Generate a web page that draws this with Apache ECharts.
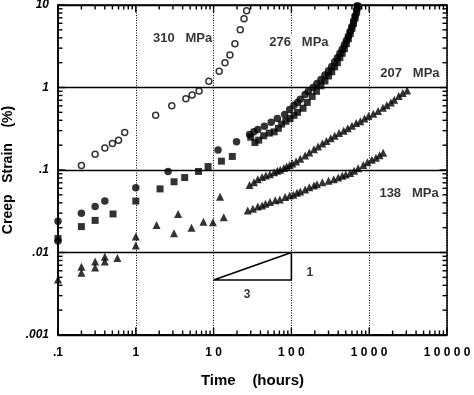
<!DOCTYPE html>
<html>
<head>
<meta charset="utf-8">
<script src="https://cdn.jsdelivr.net/npm/echarts@6/dist/echarts.min.js"></script>
<style>html,body{margin:0;padding:0;background:#fff}#c{width:474px;height:395px}</style>
</head>
<body>
<div id="c"></div>
<script>
// ---- data (time in hours, creep strain in %) ----
const xTickLabels = ['.1', '1', '1 0', '1 0 0', '1 0 0 0', '1 0 0 0 0'];
const yTickLabels = ['.001', '.01', '.1', '1', '10'];

const s310Time   = [0.2, 0.3, 0.4, 0.5, 0.6, 0.72, 1.8, 2.9, 4.4, 5.3, 6.5, 8.7, 11.8, 14, 16.2, 18.8, 22, 24.6, 26.6];
const s310Strain = [0.113, 0.155, 0.185, 0.21, 0.23, 0.285, 0.46, 0.60, 0.73, 0.81, 0.91, 1.19, 1.57, 2.0, 2.48, 3.4, 5.0, 6.8, 8.5];

const s276aTime   = [0.1, 0.1, 0.2, 0.3, 0.4, 1.0, 2.6, 11.4, 19.7, 29, 33, 37, 45, 55, 66, 82, 95, 108, 120, 130, 150, 165, 190, 213, 240, 270, 300, 330, 360, 390, 420, 450, 480, 510, 540, 570, 600, 630, 660, 690, 705];
const s276aStrain = [0.024, 0.0138, 0.030, 0.036, 0.042, 0.061, 0.096, 0.175, 0.22, 0.27, 0.29, 0.31, 0.34, 0.38, 0.42, 0.47, 0.54, 0.61, 0.66, 0.72, 0.82, 0.90, 1.0, 1.12, 1.25, 1.42, 1.6, 1.8, 2.05, 2.3, 2.6, 2.9, 3.3, 3.7, 4.2, 4.8, 5.5, 6.4, 7.4, 8.7, 9.8];

const s276bTime   = [0.1, 0.2, 0.3, 0.51, 1.0, 2.05, 3.1, 4.25, 6.4, 8.5, 12.6, 17.4, 30, 34, 38, 44, 52, 60, 68, 75, 85, 96, 108, 120, 141, 160, 185, 210, 240, 270, 300, 330, 360, 390, 420, 450, 480, 510, 540, 570, 600, 630, 660, 690, 710];
const s276bStrain = [0.0148, 0.0206, 0.0245, 0.0293, 0.042, 0.059, 0.072, 0.081, 0.096, 0.11, 0.128, 0.146, 0.25, 0.215, 0.23, 0.26, 0.28, 0.29, 0.32, 0.36, 0.39, 0.42, 0.46, 0.50, 0.56, 0.66, 0.78, 0.90, 1.05, 1.20, 1.38, 1.55, 1.78, 2.0, 2.3, 2.6, 2.95, 3.4, 3.9, 4.5, 5.2, 6.0, 7.0, 8.2, 9.6];

const s207Time   = [0.1, 0.2, 0.2, 0.3, 0.3, 0.4, 0.4, 0.58, 1.0, 1.0, 1.85, 3.1, 3.5, 5.2, 7.4, 9.8, 12.1, 29, 33, 37, 42, 47, 53, 60, 66, 72, 80, 87, 95, 103, 115, 130, 150, 170, 195, 220, 250, 282, 320, 360, 410, 470, 530, 600, 680, 770, 870, 980, 1130, 1300, 1500, 1680, 1900, 2100, 2400, 2700, 3070];
const s207Strain = [0.0047, 0.0067, 0.0057, 0.0078, 0.0066, 0.0089, 0.0078, 0.0086, 0.0156, 0.0122, 0.0216, 0.0171, 0.0293, 0.020, 0.0236, 0.0233, 0.0475, 0.066, 0.071, 0.077, 0.082, 0.086, 0.089, 0.094, 0.098, 0.101, 0.106, 0.110, 0.115, 0.120, 0.127, 0.137, 0.150, 0.163, 0.178, 0.193, 0.21, 0.225, 0.243, 0.26, 0.28, 0.30, 0.32, 0.345, 0.37, 0.39, 0.42, 0.45, 0.48, 0.52, 0.57, 0.61, 0.66, 0.71, 0.79, 0.86, 0.92];

const s138Time   = [13.5, 27.5, 32, 37, 42, 46.5, 53, 62, 71, 83, 95, 106, 118, 130, 150, 170, 195, 213, 250, 300, 350, 400, 450, 500, 570, 640, 720, 840, 950, 1080, 1220, 1360, 1510];
const s138Strain = [0.0267, 0.0323, 0.034, 0.036, 0.037, 0.039, 0.041, 0.043, 0.044, 0.047, 0.049, 0.050, 0.053, 0.055, 0.058, 0.062, 0.065, 0.067, 0.071, 0.074, 0.077, 0.081, 0.085, 0.088, 0.092, 0.098, 0.105, 0.115, 0.124, 0.133, 0.141, 0.151, 0.162];

const stressLabels = ['310   MPa', '276   MPa', '207   MPa', '138   MPa'];
const stressLabelTime   = [4, 125, 3340, 3250];
const stressLabelStrain = [3.98, 3.56, 1.5, 0.0526];

// slope triangle (3 : 1)
const slopeTime   = [10, 100, 100, 10];
const slopeStrain = [0.00464, 0.00464, 0.01, 0.00464];
const slopeText = ['3', '1'];
const slopeTextTime = [27, 173];
const slopeTextStrain = [0.00306, 0.0057];

// axis frame tick positions
const minorMult = [2, 3, 4, 5, 6, 7, 8, 9];
const xDecades = [0.1, 1, 10, 100, 1000];
const yDecades = [0.001, 0.01, 0.1, 1];
const X_MIN = 0.1, X_MAX = 10000, Y_MIN = 0.001, Y_MAX = 10;

const zip = (a, b) => a.map((v, i) => [v, b[i]]);
const FONT = 'Liberation Sans';

const xMinor = [];
xDecades.forEach(d => minorMult.forEach(m => xMinor.push(d * m)));
const yMinor = [];
yDecades.forEach(d => minorMult.forEach(m => yMinor.push(d * m)));
const xMajor = xDecades.concat([X_MAX]);
const yMajor = yDecades.concat([Y_MAX]);

const chart = echarts.init(document.getElementById('c'), null, {renderer: 'canvas'});

const option = {
  backgroundColor: '#fff',
  animation: false,
  grid: {left: 58, right: 27, top: 5, bottom: 60, show: true, borderColor: '#000', borderWidth: 1.5,
    containLabel: false, outerBoundsMode: 'none'},
  xAxis: {
    type: 'log', logBase: 10, min: X_MIN, max: X_MAX,
    name: 'Time    (hours)', nameLocation: 'middle', nameGap: 38,
    nameTextStyle: {fontFamily: FONT, fontWeight: 'bold', fontSize: 15, color: '#000'},
    axisLine: {show: true, lineStyle: {color: '#000', width: 1.5}},
    axisTick: {show: false},
    minorTick: {show: false}, minorSplitLine: {show: false},
    axisLabel: {
      fontFamily: FONT, fontWeight: 'bold', fontSize: 12, color: '#000', margin: 12,
      showMinLabel: true, showMaxLabel: true,
      formatter: v => xTickLabels[Math.round(Math.log10(v)) + 1] || ''
    },
    splitLine: {show: true, lineStyle: {color: '#000', type: [1, 1.5], width: 1}}
  },
  yAxis: {
    type: 'log', logBase: 10, min: Y_MIN, max: Y_MAX,
    name: 'Creep   Strain    (%)', nameLocation: 'middle', nameGap: 40,
    nameTextStyle: {fontFamily: FONT, fontWeight: 'bold', fontSize: 14, color: '#000'},
    axisLine: {show: true, lineStyle: {color: '#000', width: 1.5}},
    axisTick: {show: false},
    minorTick: {show: false}, minorSplitLine: {show: false},
    axisLabel: {
      fontFamily: FONT, fontWeight: 'bold', fontStyle: 'italic', fontSize: 12, color: '#000', margin: 9,
      showMinLabel: true, showMaxLabel: true,
      formatter: v => yTickLabels[Math.round(Math.log10(v)) + 3] || ''
    },
    splitLine: {show: true, lineStyle: {color: '#000', width: 1.3}}
  },
  series: [
    {type: 'line', data: zip(slopeTime, slopeStrain), symbol: 'none', lineStyle: {color: '#000', width: 1.6}, silent: true, z: 3},
    {type: 'scatter', data: zip(s310Time, s310Strain), symbol: 'circle', symbolSize: 6,
      itemStyle: {color: '#fff', borderColor: '#000', borderWidth: 1.5}, z: 5},
    {type: 'scatter', data: zip(s276aTime, s276aStrain), symbol: 'circle', symbolSize: 7.5, itemStyle: {color: '#000'}, z: 5},
    {type: 'scatter', data: zip(s276bTime, s276bStrain), symbol: 'rect', symbolSize: 7, itemStyle: {color: '#000'}, z: 5},
    {type: 'scatter', data: zip(s207Time, s207Strain), symbol: 'triangle', symbolSize: 8, itemStyle: {color: '#000'}, z: 5},
    {type: 'scatter', data: zip(s138Time, s138Strain), symbol: 'triangle', symbolSize: 8, itemStyle: {color: '#000'}, z: 5},
    {type: 'scatter', symbolSize: 0, silent: true, z: 6,
      data: stressLabels.map((t, i) => ({value: [stressLabelTime[i], stressLabelStrain[i]], label: {formatter: t}})),
      label: {show: true, position: 'inside', fontFamily: FONT, fontWeight: 'bold', fontSize: 13, color: '#000', backgroundColor: '#fff', padding: [1, 1]}},
    {type: 'scatter', symbolSize: 0, silent: true, z: 6,
      data: slopeText.map((t, i) => ({value: [slopeTextTime[i], slopeTextStrain[i]], label: {formatter: t}})),
      label: {show: true, position: 'inside', fontFamily: FONT, fontWeight: 'bold', fontSize: 12, color: '#000'}}
  ]
};
chart.setOption(option);

// frame ticks: positions come from the chart's own log scales
(function addFrameTicks() {
  const px = v => chart.convertToPixel({gridIndex: 0}, v);
  const p0 = px([X_MIN, Y_MIN]);
  const p1 = px([X_MAX, Y_MAX]);
  if (!p0 || !p1) return;
  const L = p0[0], B = p0[1], R = p1[0], T = p1[1];
  const W = 1.4, MIN = 4.5, MAJ = 7.5;
  const els = [];
  const rect = (x, y, w, h) => els.push({type: 'rect', z: 100, silent: true,
    shape: {x: x, y: y, width: w, height: h}, style: {fill: '#000'}});
  xMinor.forEach(v => { const x = px([v, Y_MIN])[0]; rect(x - W / 2, B - MIN, W, MIN); rect(x - W / 2, T, W, MIN); });
  xMajor.forEach(v => { const x = px([v, Y_MIN])[0]; rect(x - W / 2, B - MAJ, W, MAJ); rect(x - W / 2, T, W, MAJ); });
  yMinor.forEach(v => { const y = px([X_MIN, v])[1]; rect(L, y - W / 2, MIN, W); rect(R - MIN, y - W / 2, MIN, W); });
  yMajor.forEach(v => { const y = px([X_MIN, v])[1]; rect(L, y - W / 2, MAJ, W); rect(R - MAJ, y - W / 2, MAJ, W); });
  chart.setOption({graphic: {elements: els}});
})();
</script>
</body>
</html>
